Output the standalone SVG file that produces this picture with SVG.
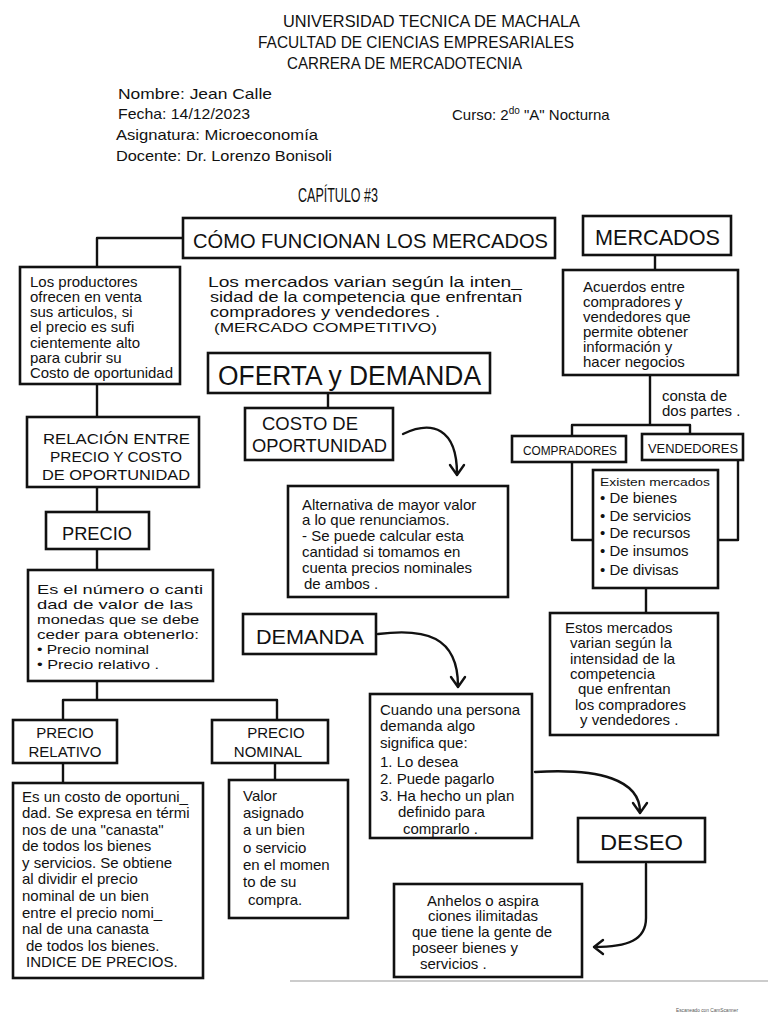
<svg xmlns="http://www.w3.org/2000/svg" width="768" height="1024" viewBox="0 0 768 1024">
<defs>
<style>
.bg{fill:#ffffff}
.box{fill:#ffffff;stroke:#111111;stroke-width:2.6}
.ln{fill:none;stroke:#111111;stroke-width:2.4;stroke-linecap:round;stroke-linejoin:round}
.ar{fill:none;stroke:#111111;stroke-width:2.4;stroke-linecap:round;stroke-linejoin:round}
.t{font-family:"Liberation Sans",Arial,sans-serif;fill:#111111}
.hd{font-size:17px}
.meta{font-size:15px}
.body{font-size:15px}
.cap{font-size:15px}
.small{font-size:12px}
.foot{font-family:"Liberation Sans",Arial,sans-serif;font-size:6px;fill:#555555}
</style>
</defs>
<rect class="bg" x="0" y="0" width="768" height="1024"/>

<g id="header">
<text class="t hd" x="283" y="27" textLength="297" lengthAdjust="spacingAndGlyphs">UNIVERSIDAD TECNICA DE MACHALA</text>
<text class="t hd" x="258" y="48" textLength="316" lengthAdjust="spacingAndGlyphs">FACULTAD DE CIENCIAS EMPRESARIALES</text>
<text class="t hd" x="287" y="69" textLength="235" lengthAdjust="spacingAndGlyphs">CARRERA DE MERCADOTECNIA</text>
<text class="t meta" x="118" y="99" textLength="154" lengthAdjust="spacingAndGlyphs">Nombre: Jean Calle</text>
<text class="t meta" x="118" y="119" textLength="132" lengthAdjust="spacingAndGlyphs">Fecha: 14/12/2023</text>
<text class="t meta" x="116" y="140" textLength="202" lengthAdjust="spacingAndGlyphs">Asignatura: Microeconomía</text>
<text class="t meta" x="116" y="161" textLength="216" lengthAdjust="spacingAndGlyphs">Docente: Dr. Lorenzo Bonisoli</text>
<text class="t meta" x="452" y="120">Curso: 2<tspan font-size="10" dy="-6">do</tspan><tspan dy="6"> "A" Nocturna</tspan></text>
<text class="t" font-size="21" x="298" y="202" textLength="80" lengthAdjust="spacingAndGlyphs">CAPÍTULO #3</text>
</g>

<g id="connectors">
<path class="ln" d="M183,238 H97 V267"/>
<path class="ln" d="M97,384 V417"/>
<path class="ln" d="M97,487 V512"/>
<path class="ln" d="M97,548 V570"/>
<path class="ln" d="M97,681 V700 M63,700 H277 M63,700 V720 M277,700 V720"/>
<path class="ln" d="M63,763 V783"/>
<path class="ln" d="M275,763 V780"/>
<path class="ln" d="M328,393 V408"/>
<path class="ar" d="M403,434 C432,420 457,428 457,474 M450,465 L457,475 L464,465"/>
<path class="ar" d="M378,634 C425,628 458,636 458,686 M451,677 L458,687 L465,677"/>
<path class="ar" d="M535,772 C600,768 640,780 640,812 M633,803 L640,813 L647,803"/>
<path class="ar" d="M646,864 V918 C646,940 628,947 594,947 M603,940 L594,947 L603,954"/>
<path class="ln" d="M655,255 V270"/>
<path class="ln" d="M650,375 V425 M572,425 H690 M572,425 V436 M690,425 V434"/>
<path class="ln" d="M572,462 V540 H593"/>
<path class="ln" d="M738,460 V540 H718"/>
<path class="ln" d="M646,588 V613"/>
</g>

<g id="n-como">
<rect class="box" x="183" y="218" width="372" height="40"/>
<text class="t" font-size="21" x="193" y="248" textLength="355" lengthAdjust="spacingAndGlyphs">CÓMO FUNCIONAN LOS MERCADOS</text>
</g>

<g id="n-mercados">
<rect class="box" x="583" y="216" width="148" height="39"/>
<text class="t" font-size="22" x="595" y="245" textLength="125" lengthAdjust="spacingAndGlyphs">MERCADOS</text>
</g>

<g id="n-productores">
<rect class="box" x="20" y="267" width="160" height="117"/>
<text class="t body" x="30" y="287">Los productores</text>
<text class="t body" x="30" y="302">ofrecen en venta</text>
<text class="t body" x="30" y="317">sus articulos, si</text>
<text class="t body" x="30" y="332">el precio es sufi</text>
<text class="t body" x="30" y="348">cientemente alto</text>
<text class="t body" x="30" y="363">para cubrir su</text>
<text class="t body" x="30" y="378" textLength="143" lengthAdjust="spacingAndGlyphs">Costo de oportunidad</text>
</g>

<g id="n-intro">
<text class="t" font-size="14" x="208" y="287" textLength="314" lengthAdjust="spacingAndGlyphs">Los mercados varian según la inten_</text>
<text class="t" font-size="14" x="210" y="302" textLength="312" lengthAdjust="spacingAndGlyphs">sidad de la competencia que enfrentan</text>
<text class="t" font-size="14" x="210" y="317" textLength="230" lengthAdjust="spacingAndGlyphs">compradores y vendedores .</text>
<text class="t" font-size="13" x="214" y="332" textLength="223" lengthAdjust="spacingAndGlyphs">(MERCADO COMPETITIVO)</text>
</g>

<g id="n-oferta">
<rect class="box" x="208" y="353" width="282" height="40"/>
<text class="t" font-size="27" x="218" y="385" textLength="263" lengthAdjust="spacingAndGlyphs">OFERTA y DEMANDA</text>
</g>

<g id="n-costo">
<rect class="box" x="245" y="408" width="148" height="52"/>
<text class="t" font-size="18" x="262" y="430" textLength="96" lengthAdjust="spacingAndGlyphs">COSTO DE</text>
<text class="t" font-size="18" x="252" y="452" textLength="135" lengthAdjust="spacingAndGlyphs">OPORTUNIDAD</text>
</g>

<g id="n-alternativa">
<rect class="box" x="288" y="486" width="220" height="111"/>
<text class="t body" x="302" y="510">Alternativa de mayor valor</text>
<text class="t body" x="302" y="525">a lo que renunciamos.</text>
<text class="t body" x="302" y="541">- Se puede calcular esta</text>
<text class="t body" x="302" y="557">cantidad si tomamos en</text>
<text class="t body" x="302" y="573">cuenta precios nominales</text>
<text class="t body" x="304" y="589">de ambos .</text>
</g>

<g id="n-demanda">
<rect class="box" x="243" y="614" width="133" height="40"/>
<text class="t" font-size="20" x="256" y="644" textLength="108" lengthAdjust="spacingAndGlyphs">DEMANDA</text>
</g>

<g id="n-cuando">
<rect class="box" x="370" y="694" width="162" height="144"/>
<text class="t body" x="380" y="715">Cuando una persona</text>
<text class="t body" x="380" y="731">demanda algo</text>
<text class="t body" x="380" y="748">significa que:</text>
<text class="t body" x="380" y="767">1. Lo desea</text>
<text class="t body" x="380" y="784">2. Puede pagarlo</text>
<text class="t body" x="380" y="801">3. Ha hecho un plan</text>
<text class="t body" x="398" y="817">definido para</text>
<text class="t body" x="403" y="834">comprarlo .</text>
</g>

<g id="n-deseo">
<rect class="box" x="578" y="818" width="127" height="44"/>
<text class="t" font-size="22" x="600" y="850" textLength="83" lengthAdjust="spacingAndGlyphs">DESEO</text>
</g>

<g id="n-anhelos">
<rect class="box" x="394" y="884" width="188" height="93"/>
<text class="t body" x="427" y="906">Anhelos o aspira</text>
<text class="t body" x="428" y="921">ciones ilimitadas</text>
<text class="t body" x="412" y="937">que tiene la gente de</text>
<text class="t body" x="412" y="953">poseer bienes  y</text>
<text class="t body" x="420" y="969">servicios .</text>
</g>

<g id="n-relacion">
<rect class="box" x="27" y="417" width="172" height="70"/>
<text class="t cap" x="43" y="444" textLength="147" lengthAdjust="spacingAndGlyphs">RELACIÓN ENTRE</text>
<text class="t cap" x="50" y="462" textLength="132" lengthAdjust="spacingAndGlyphs">PRECIO Y COSTO</text>
<text class="t cap" x="42" y="480" textLength="148" lengthAdjust="spacingAndGlyphs">DE OPORTUNIDAD</text>
</g>

<g id="n-precio">
<rect class="box" x="46" y="512" width="103" height="37"/>
<text class="t" font-size="19" x="62" y="540" textLength="70" lengthAdjust="spacingAndGlyphs">PRECIO</text>
</g>

<g id="n-numero">
<rect class="box" x="28" y="570" width="185" height="111"/>
<text class="t" font-size="13.5" x="37" y="594" textLength="166" lengthAdjust="spacingAndGlyphs">Es el número o canti</text>
<text class="t" font-size="13.5" x="37" y="609" textLength="156" lengthAdjust="spacingAndGlyphs">dad de valor de las</text>
<text class="t" font-size="13.5" x="37" y="624" textLength="162" lengthAdjust="spacingAndGlyphs">monedas que se debe</text>
<text class="t" font-size="13.5" x="37" y="639" textLength="162" lengthAdjust="spacingAndGlyphs">ceder para obtenerlo:</text>
<text class="t" font-size="13.5" x="37" y="654" textLength="112" lengthAdjust="spacingAndGlyphs">• Precio nominal</text>
<text class="t" font-size="13.5" x="37" y="669" textLength="122" lengthAdjust="spacingAndGlyphs">• Precio relativo .</text>
</g>

<g id="n-relativo">
<rect class="box" x="13" y="720" width="104" height="43"/>
<text class="t" font-size="15" x="65" y="738" text-anchor="middle">PRECIO</text>
<text class="t" font-size="15" x="65" y="757" text-anchor="middle">RELATIVO</text>
</g>

<g id="n-nominal">
<rect class="box" x="212" y="720" width="116" height="43"/>
<text class="t" font-size="15" x="276" y="738" text-anchor="middle">PRECIO</text>
<text class="t" font-size="15" x="268" y="757" text-anchor="middle">NOMINAL</text>
</g>

<g id="n-costo-relativo">
<rect class="box" x="13" y="783" width="190" height="195"/>
<text class="t body" x="22" y="802">Es un costo de oportuni_</text>
<text class="t body" x="22" y="818">dad. Se expresa en térmi</text>
<text class="t body" x="22" y="835">nos de una "canasta"</text>
<text class="t body" x="22" y="851">de todos los bienes</text>
<text class="t body" x="22" y="868">y servicios. Se obtiene</text>
<text class="t body" x="22" y="884">al dividir el precio</text>
<text class="t body" x="22" y="901">nominal de un bien</text>
<text class="t body" x="22" y="918">entre el precio nomi_</text>
<text class="t body" x="22" y="934">nal de una canasta</text>
<text class="t body" x="26" y="951">de todos los bienes.</text>
<text class="t body" x="26" y="967">INDICE DE PRECIOS.</text>
</g>

<g id="n-valor">
<rect class="box" x="229" y="780" width="119" height="138"/>
<text class="t body" x="243" y="801">Valor</text>
<text class="t body" x="243" y="818">asignado</text>
<text class="t body" x="243" y="835">a un bien</text>
<text class="t body" x="243" y="853">o servicio</text>
<text class="t body" x="243" y="870">en el momen</text>
<text class="t body" x="243" y="887">to de su</text>
<text class="t body" x="248" y="905">compra.</text>
</g>

<g id="n-acuerdos">
<rect class="box" x="563" y="270" width="175" height="105"/>
<text class="t body" x="583" y="292">Acuerdos entre</text>
<text class="t body" x="583" y="307">compradores y</text>
<text class="t body" x="583" y="322">vendedores que</text>
<text class="t body" x="583" y="337">permite obtener</text>
<text class="t body" x="583" y="352">información y</text>
<text class="t body" x="583" y="367">hacer negocios</text>
</g>

<g id="n-consta">
<text class="t body" x="662" y="401">consta de</text>
<text class="t body" x="662" y="416">dos partes .</text>
</g>

<g id="n-compradores">
<rect class="box" x="512" y="436" width="114" height="26"/>
<text class="t small" x="523" y="455" textLength="94" lengthAdjust="spacingAndGlyphs">COMPRADORES</text>
</g>

<g id="n-vendedores">
<rect class="box" x="642" y="434" width="101" height="26"/>
<text class="t small" x="648" y="453" textLength="90" lengthAdjust="spacingAndGlyphs">VENDEDORES</text>
</g>

<g id="n-existen">
<rect class="box" x="593" y="470" width="125" height="118"/>
<text class="t" font-size="11" x="600" y="486" textLength="110" lengthAdjust="spacingAndGlyphs">Existen mercados</text>
<text class="t body" x="600" y="503">• De bienes</text>
<text class="t body" x="600" y="521">• De servicios</text>
<text class="t body" x="600" y="538">• De recursos</text>
<text class="t body" x="600" y="556">• De insumos</text>
<text class="t body" x="600" y="575">• De divisas</text>
</g>

<g id="n-estos">
<rect class="box" x="550" y="613" width="168" height="122"/>
<text class="t body" x="565" y="633">Estos mercados</text>
<text class="t body" x="570" y="648">varian según la</text>
<text class="t body" x="570" y="664">intensidad de la</text>
<text class="t body" x="570" y="679">competencia</text>
<text class="t body" x="578" y="694">que enfrentan</text>
<text class="t body" x="575" y="710">los compradores</text>
<text class="t body" x="580" y="725">y vendedores .</text>
</g>

<g id="footer">
<path d="M290,981 H768" fill="none" stroke="#999999" stroke-width="1"/>
<text class="foot" x="676" y="1012" textLength="62" lengthAdjust="spacingAndGlyphs">Escaneado con CamScanner</text>
</g>
</svg>
